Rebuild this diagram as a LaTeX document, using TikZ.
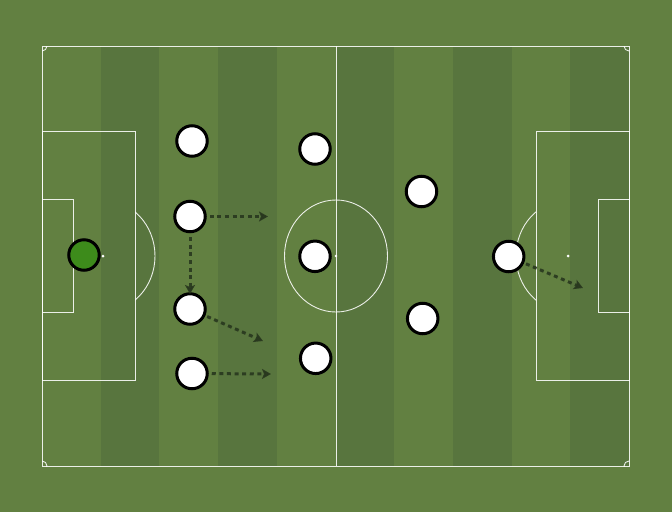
\documentclass[tikz,border=0pt]{standalone}
\usetikzlibrary{arrows.meta,shadows}
\definecolor{grassL}{RGB}{98,128,65}
\definecolor{grassD}{RGB}{88,117,62}
\definecolor{gkgreen}{RGB}{61,139,27}
\definecolor{arrowc}{RGB}{40,55,30}
\tikzset{
  player/.style={circle,draw=black,line width=3pt,fill=white,minimum size=30.5pt,inner sep=0pt,
    drop shadow={opacity=0.25,shadow xshift=1pt,shadow yshift=-1.2pt}},
  keeper/.style={player,fill=gkgreen},
  pline/.style={draw=white,line width=0.9pt,opacity=0.88},
  move/.style={draw=arrowc,line width=3pt,dash pattern=on 4pt off 3.6pt,
    -{Stealth[length=9pt,width=10pt,inset=2pt]},opacity=0.9}
}
\begin{document}
\begin{tikzpicture}[x=1pt,y=-1pt]
\useasboundingbox (0,0) rectangle (672,512);
\fill[grassL] (0,0) rectangle (672,512);
% stripes
\foreach \i in {1,3,5,7,9}{
  \fill[grassD] ({42+\i*58.7},46) rectangle ({42+(\i+1)*58.7},466);
}
% outline
\draw[pline] (42,46) rectangle (629,466);
\draw[pline] (336,46) -- (336,466);
\draw[pline] (336,256) ellipse [x radius=51.5,y radius=56];
\fill[white] (336,256) circle (1.3);
% left boxes
\draw[pline] (42,131) rectangle (135,380);
\draw[pline] (42,199) rectangle (73,312);
\fill[white] (103,256) circle (1.5);
\begin{scope}
  \clip (135,0) rectangle (336,512);
  \draw[pline] (103,256) ellipse [x radius=52,y radius=56];
\end{scope}
% right boxes
\draw[pline] (536,131) rectangle (629,380);
\draw[pline] (598,199) rectangle (629,312);
\fill[white] (568,256) circle (1.5);
\begin{scope}
  \clip (336,0) rectangle (536,512);
  \draw[pline] (568,256) ellipse [x radius=52,y radius=56];
\end{scope}
% corner arcs
\begin{scope}
  \clip (42,46) rectangle (629,466);
  \draw[pline] (42,46) circle (5);
  \draw[pline] (629,46) circle (5);
  \draw[pline] (42,466) circle (5);
  \draw[pline] (629,466) circle (5);
\end{scope}
% players
\node[keeper] (gk) at (84,255) {};
\node[player] (p1) at (192,141) {};
\node[player] (p2) at (190,216.5) {};
\node[player] (p3) at (190,309) {};
\node[player] (p4) at (192,373.5) {};
\node[player] (p5) at (315,149) {};
\node[player] (p6) at (315,256.3) {};
\node[player] (p7) at (315.7,358.3) {};
\node[player] (p8) at (421.5,191.5) {};
\node[player] (p9) at (422.7,318.5) {};
\node[player] (p10) at (508.7,256.5) {};
% arrow targets
\coordinate (t2) at (268,216.5);
\coordinate (t2b) at (190,294);
\coordinate (t3) at (263,341);
\coordinate (t4) at (271,374);
\coordinate (t10) at (583,288);
% arrows
\draw[move,shorten <=3pt] (p2) -- (t2);
\draw[move,shorten <=4pt] (p2) -- (t2b);
\draw[move,shorten <=2pt] (p3) -- (t3);
\draw[move,shorten <=3pt] (p4) -- (t4);
\draw[move,shorten <=2pt] (p10) -- (t10);
\end{tikzpicture}
\end{document}
